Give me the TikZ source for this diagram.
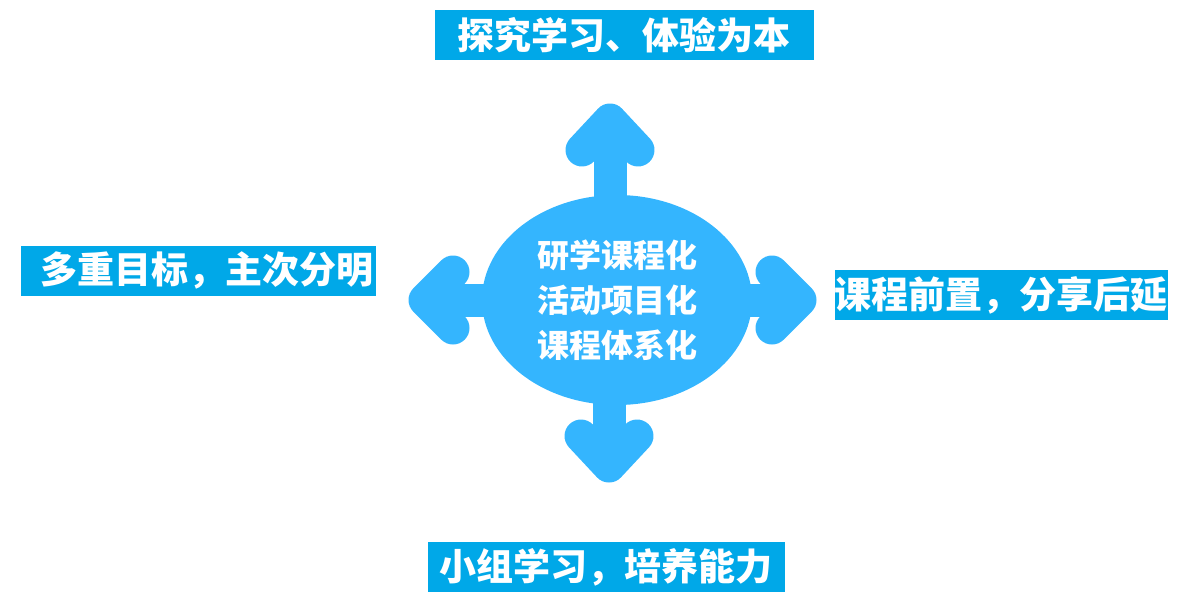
\documentclass[tikz,border=0pt]{standalone}
\usepackage{fontspec}
\newfontfamily\cjk{Noto Sans CJK SC}
\usetikzlibrary{shapes.geometric}
\definecolor{arrowblue}{RGB}{52,181,254}
\definecolor{boxblue}{RGB}{0,168,232}
\tikzset{
  labelbox/.style={fill=boxblue, text=white, inner sep=0pt, minimum height=50pt,
    font=\cjk\bfseries\fontsize{37}{40}\selectfont},
  shaft/.style={draw=arrowblue, line width=33pt, line cap=butt},
  chevron/.style={draw=arrowblue, line width=33pt, line cap=round, line join=round},
  hub/.style={ellipse, fill=arrowblue, minimum width=270pt, minimum height=210pt, inner sep=0pt,
    text=white, align=center, font=\cjk\bfseries\fontsize{32}{45}\selectfont}
}
\begin{document}
\begin{tikzpicture}[x=1pt,y=-1pt]
\useasboundingbox (0,0) rectangle (1186,602);
% hub position and arrow tips
\coordinate (o) at (617,300);
\coordinate (tT) at (610,120);
\coordinate (tB) at (609,466);
\coordinate (tL) at (425,300);
\coordinate (tR) at (800,300);
% lobes
\coordinate (tTa) at (582,150); \coordinate (tTb) at (638,150);
\coordinate (tBa) at (581,436); \coordinate (tBb) at (637,436);
\coordinate (tLa) at (453,272); \coordinate (tLb) at (453,328);
\coordinate (tRa) at (772,272); \coordinate (tRb) at (772,328);
% shafts
\draw[shaft] (o -| tT) -- (tT);
\draw[shaft] (o -| tB) -- (tB);
\draw[shaft] (o) -- (tL);
\draw[shaft] (o) -- (tR);
% heads
\draw[chevron] (tTa) -- (tT) -- (tTb);
\draw[chevron] (tBa) -- (tB) -- (tBb);
\draw[chevron] (tLa) -- (tL) -- (tLb);
\draw[chevron] (tRa) -- (tR) -- (tRb);
% hub
\node[hub] (c) at (o) {研学课程化\\活动项目化\\课程体系化};
% labels
\node[labelbox, minimum width=379pt] (top) at (624,35) {探究学习、体验为本};
\node[labelbox, minimum width=355pt] (left) at (198,270.5) {\hspace*{18pt}多重目标，主次分明};
\node[labelbox, minimum width=332pt] (right) at (1001,295) {课程前置，分享后延};
\node[labelbox, minimum width=357pt] (bottom) at (606,567) {小组学习，培养能力};
\end{tikzpicture}
\end{document}
